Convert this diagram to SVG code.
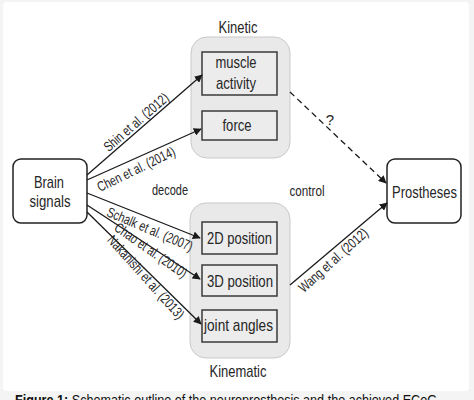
<svg xmlns="http://www.w3.org/2000/svg" width="474" height="400" viewBox="0 0 474 400">
<defs>
<marker id="ah" viewBox="0 0 10 10" refX="9" refY="5" markerWidth="8" markerHeight="8" markerUnits="userSpaceOnUse" orient="auto">
<path d="M0,0 L10,5 L0,10 Z" fill="#1a1a1a"/>
</marker>
</defs>
<style>
text{font-family:"Liberation Sans Narrow","Liberation Sans",Arial,sans-serif;fill:#262626}
.n{font-size:17px;text-anchor:middle}
.s{font-size:14px;text-anchor:middle}
.grp{fill:#e9e9e9;stroke:#c9c9c9;stroke-width:1}
.box{fill:#ececec;stroke:#3a3a3a;stroke-width:1.5}
.term{fill:#ffffff;stroke:#222;stroke-width:1.5}
.e{fill:none;stroke:#1a1a1a;stroke-width:1.3;marker-end:url(#ah)}
.d{stroke-dasharray:6,4}
</style>
<rect x="0" y="0" width="474" height="400" fill="#f4f4f4"/>
<rect x="3" y="2" width="466" height="389" rx="4" fill="#ffffff"/>

<g id="kinetic">
<rect class="grp" x="191" y="37" width="99" height="121" rx="16"/>
<text class="n" x="238" y="33" textLength="39" lengthAdjust="spacingAndGlyphs">Kinetic</text>
</g>
<g id="muscle-activity">
<rect class="box" x="202" y="52" width="75" height="43"/>
<text class="n" x="236" y="68" textLength="41" lengthAdjust="spacingAndGlyphs">muscle</text>
<text class="n" x="236" y="89" textLength="40" lengthAdjust="spacingAndGlyphs">activity</text>
</g>
<g id="force">
<rect class="box" x="202" y="111" width="75" height="29"/>
<text class="n" x="237" y="131" textLength="29" lengthAdjust="spacingAndGlyphs">force</text>
</g>

<g id="kinematic">
<rect class="grp" x="190" y="203" width="100" height="155" rx="16"/>
<text class="n" x="238" y="377" textLength="57" lengthAdjust="spacingAndGlyphs">Kinematic</text>
</g>
<g id="pos2d">
<rect class="box" x="202" y="222" width="75" height="32"/>
<text class="n" x="239.5" y="244" textLength="65" lengthAdjust="spacingAndGlyphs">2D position</text>
</g>
<g id="pos3d">
<rect class="box" x="202" y="265" width="75" height="31"/>
<text class="n" x="240" y="287" textLength="66" lengthAdjust="spacingAndGlyphs">3D position</text>
</g>
<g id="joint-angles">
<rect class="box" x="202" y="310" width="75" height="32"/>
<text class="n" x="238.5" y="331" textLength="69" lengthAdjust="spacingAndGlyphs">joint angles</text>
</g>

<g id="brain">
<rect class="term" x="13" y="159" width="74" height="64" rx="8"/>
<text class="n" x="49" y="188" textLength="30" lengthAdjust="spacingAndGlyphs">Brain</text>
<text class="n" x="50" y="207" textLength="41" lengthAdjust="spacingAndGlyphs">signals</text>
</g>
<g id="prostheses">
<rect class="term" x="387" y="159" width="74" height="64" rx="8"/>
<text class="n" x="424.5" y="198" textLength="65" lengthAdjust="spacingAndGlyphs">Prostheses</text>
</g>

<g id="connectors">
<line class="e" x1="87" y1="175" x2="202" y2="75"/>
<line class="e" x1="87" y1="180" x2="201" y2="129"/>
<line class="e" x1="87" y1="193" x2="200" y2="238"/>
<line class="e" x1="87" y1="205" x2="200" y2="279"/>
<line class="e" x1="87" y1="212" x2="201" y2="324"/>
<line class="e d" x1="290" y1="92" x2="386" y2="183"/>
<line class="e" x1="290" y1="285" x2="387" y2="203"/>
<text class="s" transform="translate(136,122) rotate(-41)" x="0" y="5" textLength="81" lengthAdjust="spacingAndGlyphs">Shin et al. (2012)</text>
<text class="s" transform="translate(136,169) rotate(-26)" x="0" y="5" textLength="85" lengthAdjust="spacingAndGlyphs">Chen et al. (2014)</text>
<text class="s" transform="translate(150,229) rotate(23)" x="0" y="5" textLength="92" lengthAdjust="spacingAndGlyphs">Schalk et al. (2007)</text>
<text class="s" transform="translate(151,250) rotate(35)" x="0" y="5" textLength="85" lengthAdjust="spacingAndGlyphs">Chao et al. (2010)</text>
<text class="s" transform="translate(146,277) rotate(48)" x="0" y="5" textLength="107" lengthAdjust="spacingAndGlyphs">Nakanishi et al. (2013)</text>
<text class="s" transform="translate(333,260) rotate(-42)" x="0" y="5" textLength="88" lengthAdjust="spacingAndGlyphs">Wang et al. (2012)</text>
<text class="s" x="330" y="125" style="font-size:15px">?</text>
<text class="s" x="170" y="195" textLength="36" lengthAdjust="spacingAndGlyphs">decode</text>
<text class="s" x="307" y="196" textLength="35" lengthAdjust="spacingAndGlyphs">control</text>
</g>

<text x="15" y="405" style="font-size:15px;fill:#111" textLength="422" lengthAdjust="spacingAndGlyphs"><tspan font-weight="bold">Figure 1:</tspan> Schematic outline of the neuroprosthesis and the achieved ECoG</text>
</svg>
